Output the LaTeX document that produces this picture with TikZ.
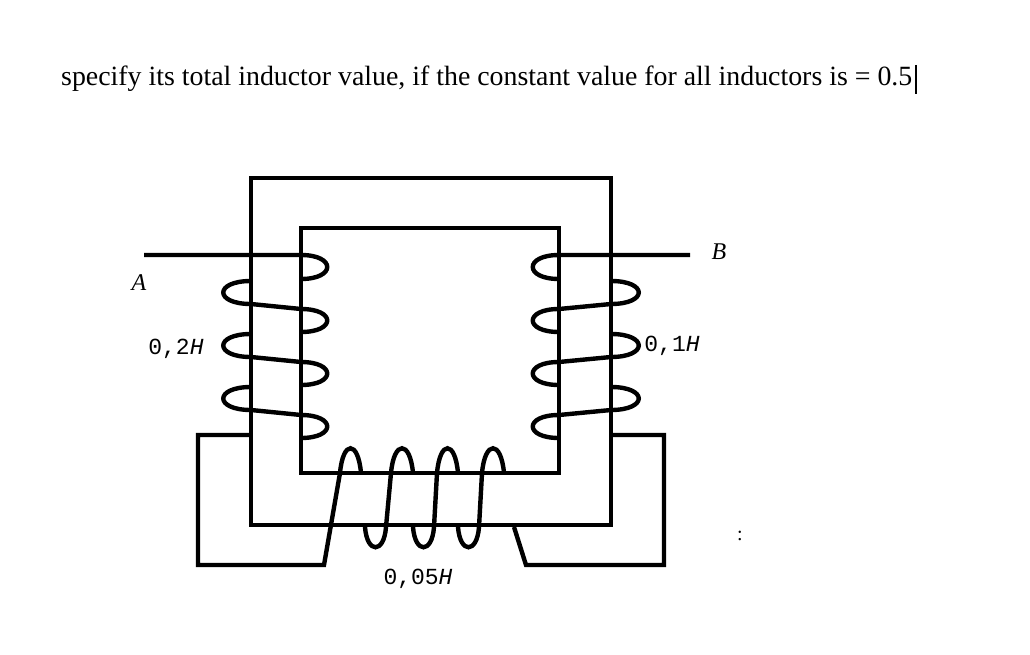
\documentclass[tikz,border=0pt]{standalone}
\usepackage{fontspec}
\setmainfont{Liberation Serif}
\newfontfamily\monof{Liberation Mono}
\begin{document}
\begin{tikzpicture}[x=1pt,y=-1pt,
  wire/.style={line width=4.4pt},
  lab/.style={inner sep=0pt,font=\monof\fontsize{23}{23}\selectfont},
  ltr/.style={inner sep=0pt,font=\itshape\fontsize{24}{24}\selectfont}]
\useasboundingbox[fill=white] (0,0) rectangle (1030,655);
\node[anchor=west,inner sep=0pt] (title) at (61,79) {\resizebox{851pt}{!}{specify its total inductor value, if the constant value for all inductors is = 0.5}};
\draw[line width=1.2pt] (916,65) -- (916,94);
% core
\draw[wire] (251,178) rectangle (611,525);
\draw[wire] (301,228) rectangle (559,473);
% left coil
\draw[wire] (144,255) -- (301,255) .. controls (336,255) and (336,279) .. (301,279);
\foreach \k in {0,1,2}{
  \pgfmathsetmacro\a{281+53*\k}
  \draw[wire] (251,\a) .. controls (214,\a) and (214,\a+23) .. (251,\a+23) -- (301,\a+28)
     .. controls (336,\a+28) and (336,\a+51) .. (301,\a+51);
}
% right coil
\draw[wire] (690,255) -- (559,255) .. controls (524,255) and (524,279) .. (559,279);
\foreach \k in {0,1,2}{
  \pgfmathsetmacro\a{281+53*\k}
  \draw[wire] (611,\a) .. controls (648,\a) and (648,\a+23) .. (611,\a+23) -- (559,\a+28)
     .. controls (524,\a+28) and (524,\a+51) .. (559,\a+51);
}
% bottom coil
\draw[wire] (251,435) -- (198,435) -- (198,565) -- (324,565) -- (340,473)
  .. controls (343,440) and (358,440) .. (361,473);
\draw[wire] (365,527) .. controls (367,554) and (384,554) .. (386,527) -- (391,473)
  .. controls (394,440) and (410,440) .. (413,473);
\draw[wire] (413,527) .. controls (415,554) and (432,554) .. (434,527) -- (437,473)
  .. controls (440,440) and (455,440) .. (458,473);
\draw[wire] (458,527) .. controls (460,554) and (477,554) .. (479,527) -- (482,473)
  .. controls (485,440) and (501,440) .. (504,473);
\draw[wire] (611,435) -- (664,435) -- (664,565) -- (526,565) -- (514,527);
% labels
\node[ltr] (A) at (139,283) {A};
\node[ltr] (B) at (719,252) {B};
\node[lab] (L1) at (176,349) {0,2\textit{H}};
\node[lab] (L2) at (672,346) {0,1\textit{H}};
\node[lab] (L3) at (418,579) {0,05\textit{H}};
\node[inner sep=0pt,font=\fontsize{20}{20}\selectfont] (c) at (740,536) {:};
\end{tikzpicture}
\end{document}
